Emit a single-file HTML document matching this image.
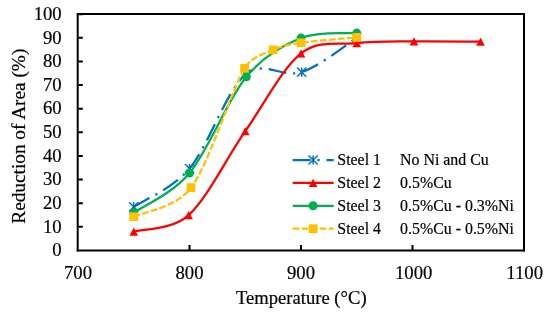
<!DOCTYPE html>
<html><head><meta charset="utf-8"><style>
html,body{margin:0;padding:0;background:#fff;}
svg{display:block;}
text{font-family:"Liberation Serif","Times New Roman",serif;font-size:17.3px;fill:#000;stroke:#000;stroke-width:0.2px;}
</style></head><body>
<svg width="550" height="314" viewBox="0 0 550 314">
<rect width="550" height="314" fill="#fff"/>
<path d="M77.7,251.5V14H524V251.5" stroke="#000" stroke-width="2" fill="none"/>
<path d="M76.7,250.5H525" stroke="#000" stroke-width="2.2" fill="none"/>
<path d="M78.5,226.87h4.3 M78.5,203.24h4.3 M78.5,179.61h4.3 M78.5,155.98h4.3 M78.5,132.35h4.3 M78.5,108.72h4.3 M78.5,85.09h4.3 M78.5,61.46h4.3 M78.5,37.83h4.3 M78.5,14.20h4.3 M189.50,250v-5 M301.00,250v-5 M412.50,250v-5 M524.00,250v-5" stroke="#000" stroke-width="2" fill="none"/>
<path d="M133.75,206.78 C143.04,200.40 172.07,189.19 189.50,168.50 C208.08,146.45 226.56,90.52 245.25,74.46 C262.38,59.73 283.09,78.20 301.67,72.09 C320.25,65.99 347.57,43.54 356.75,37.83" stroke="#0070C0" stroke-width="2.25" fill="none" stroke-dasharray="18 6.75 2.25 6.75"/>
<path d="M129.15,202.18L138.35,211.38M138.35,202.18L129.15,211.38M133.75,202.18L133.75,211.38" stroke="#0070C0" stroke-width="1.45" fill="none"/>
<path d="M184.90,163.90L194.10,173.10M194.10,163.90L184.90,173.10M189.50,163.90L189.50,173.10" stroke="#0070C0" stroke-width="1.45" fill="none"/>
<path d="M240.65,69.86L249.85,79.06M249.85,69.86L240.65,79.06M245.25,69.86L245.25,79.06" stroke="#0070C0" stroke-width="1.45" fill="none"/>
<path d="M297.07,67.49L306.27,76.69M306.27,67.49L297.07,76.69M301.67,67.49L301.67,76.69" stroke="#0070C0" stroke-width="1.45" fill="none"/>
<path d="M352.15,33.23L361.35,42.43M361.35,33.23L352.15,42.43M356.75,33.23L356.75,42.43" stroke="#0070C0" stroke-width="1.45" fill="none"/>
<path d="M133.75,231.60 C142.89,228.84 171.58,230.39 188.61,215.06 C207.19,198.32 226.52,158.11 245.25,131.17 C263.98,104.23 282.42,68.12 301.00,53.43 C318.80,39.36 337.93,45.04 356.75,43.03 C375.57,41.02 393.32,41.61 413.95,41.37 C434.58,41.14 469.42,41.57 480.51,41.61" stroke="#FF0000" stroke-width="2.25" fill="none"/>
<path d="M133.75,227.45L138.05,235.75L129.45,235.75Z" fill="#FF0000"/>
<path d="M188.61,210.91L192.91,219.21L184.31,219.21Z" fill="#FF0000"/>
<path d="M245.25,127.02L249.55,135.32L240.95,135.32Z" fill="#FF0000"/>
<path d="M301.00,49.28L305.30,57.58L296.70,57.58Z" fill="#FF0000"/>
<path d="M356.75,38.88L361.05,47.18L352.45,47.18Z" fill="#FF0000"/>
<path d="M413.95,37.22L418.25,45.52L409.65,45.52Z" fill="#FF0000"/>
<path d="M480.51,37.46L484.81,45.76L476.21,45.76Z" fill="#FF0000"/>
<path d="M133.75,212.69 C143.04,206.08 172.03,194.07 189.50,172.99 C208.27,150.35 227.78,99.31 246.37,76.82 C263.43,56.17 282.60,45.35 301.00,38.07 C319.40,30.78 347.46,33.93 356.75,33.10" stroke="#00B050" stroke-width="2.25" fill="none"/>
<circle cx="133.75" cy="212.69" r="4.5" fill="#00B050"/>
<circle cx="189.50" cy="172.99" r="4.5" fill="#00B050"/>
<circle cx="246.37" cy="76.82" r="4.5" fill="#00B050"/>
<circle cx="301.00" cy="38.07" r="4.5" fill="#00B050"/>
<circle cx="356.75" cy="33.10" r="4.5" fill="#00B050"/>
<path d="M133.75,216.71 C143.30,211.86 175.68,208.24 191.06,187.64 C209.53,162.91 230.90,91.27 244.58,68.31 C251.54,56.64 263.72,54.13 273.12,49.88 C282.53,45.63 289.62,44.50 301.00,42.79 C314.94,40.70 347.46,38.26 356.75,37.36" stroke="#FFC000" stroke-width="2.25" fill="none" stroke-dasharray="6.75 2.25"/>
<rect x="129.40" y="212.36" width="8.7" height="8.7" fill="#FFC000"/>
<rect x="186.71" y="183.29" width="8.7" height="8.7" fill="#FFC000"/>
<rect x="240.23" y="63.96" width="8.7" height="8.7" fill="#FFC000"/>
<rect x="268.77" y="45.53" width="8.7" height="8.7" fill="#FFC000"/>
<rect x="296.65" y="38.44" width="8.7" height="8.7" fill="#FFC000"/>
<rect x="352.40" y="33.01" width="8.7" height="8.7" fill="#FFC000"/>
<path d="M292.7,160.0H333.7" stroke="#0070C0" stroke-width="2.25" stroke-dasharray="18 6.75 2.25 6.75"/>
<path d="M308.50,155.40L317.70,164.60M317.70,155.40L308.50,164.60M313.10,155.40L313.10,164.60" stroke="#0070C0" stroke-width="1.45" fill="none"/>
<path d="M292.7,182.8H333.7" stroke="#FF0000" stroke-width="2.25"/>
<path d="M313.10,178.65L317.40,186.95L308.80,186.95Z" fill="#FF0000"/>
<path d="M292.7,205.8H333.7" stroke="#00B050" stroke-width="2.25"/>
<circle cx="313.10" cy="205.80" r="4.5" fill="#00B050"/>
<path d="M292.7,228.7H333.7" stroke="#FFC000" stroke-width="2.25" stroke-dasharray="6.75 2.25"/>
<rect x="308.75" y="224.35" width="8.7" height="8.7" fill="#FFC000"/>
<text transform="translate(337.3,165.40) scale(0.92,1)" style="font-size:17.3px">Steel 1</text>
<text transform="translate(400,165.40) scale(0.92,1)" style="font-size:17.3px">No Ni and Cu</text>
<text transform="translate(337.3,188.20) scale(0.92,1)" style="font-size:17.3px">Steel 2</text>
<text transform="translate(400,188.20) scale(0.92,1)" style="font-size:17.3px">0.5%Cu</text>
<text transform="translate(337.3,211.20) scale(0.92,1)" style="font-size:17.3px">Steel 3</text>
<text transform="translate(400,211.20) scale(0.92,1)" style="font-size:17.3px">0.5%Cu - 0.3%Ni</text>
<text transform="translate(337.3,234.10) scale(0.92,1)" style="font-size:17.3px">Steel 4</text>
<text transform="translate(400,234.10) scale(0.92,1)" style="font-size:17.3px">0.5%Cu - 0.5%Ni</text>
<text transform="translate(61.7,256.20) scale(1.0,1)" text-anchor="end" style="font-size:18.7px">0</text>
<text transform="translate(61.7,232.57) scale(1.0,1)" text-anchor="end" style="font-size:18.7px">10</text>
<text transform="translate(61.7,208.94) scale(1.0,1)" text-anchor="end" style="font-size:18.7px">20</text>
<text transform="translate(61.7,185.31) scale(1.0,1)" text-anchor="end" style="font-size:18.7px">30</text>
<text transform="translate(61.7,161.68) scale(1.0,1)" text-anchor="end" style="font-size:18.7px">40</text>
<text transform="translate(61.7,138.05) scale(1.0,1)" text-anchor="end" style="font-size:18.7px">50</text>
<text transform="translate(61.7,114.42) scale(1.0,1)" text-anchor="end" style="font-size:18.7px">60</text>
<text transform="translate(61.7,90.79) scale(1.0,1)" text-anchor="end" style="font-size:18.7px">70</text>
<text transform="translate(61.7,67.16) scale(1.0,1)" text-anchor="end" style="font-size:18.7px">80</text>
<text transform="translate(61.7,43.53) scale(1.0,1)" text-anchor="end" style="font-size:18.7px">90</text>
<text transform="translate(61.7,19.90) scale(1.0,1)" text-anchor="end" style="font-size:18.7px">100</text>
<text transform="translate(78.00,278.9) scale(1.0,1)" text-anchor="middle" style="font-size:18.7px">700</text>
<text transform="translate(189.50,278.9) scale(1.0,1)" text-anchor="middle" style="font-size:18.7px">800</text>
<text transform="translate(301.00,278.9) scale(1.0,1)" text-anchor="middle" style="font-size:18.7px">900</text>
<text transform="translate(413.70,278.9) scale(1.0,1)" text-anchor="middle" style="font-size:18.7px">1000</text>
<text transform="translate(524.70,278.9) scale(1.0,1)" text-anchor="middle" style="font-size:18.7px">1100</text>
<text transform="translate(301.3,304.1)" text-anchor="middle" style="font-size:18.6px">Temperature (°C)</text>
<text transform="translate(24.6,136.2) rotate(-90)" text-anchor="middle" style="font-size:19.3px">Reduction of Area (%)</text>
</svg>
</body></html>
